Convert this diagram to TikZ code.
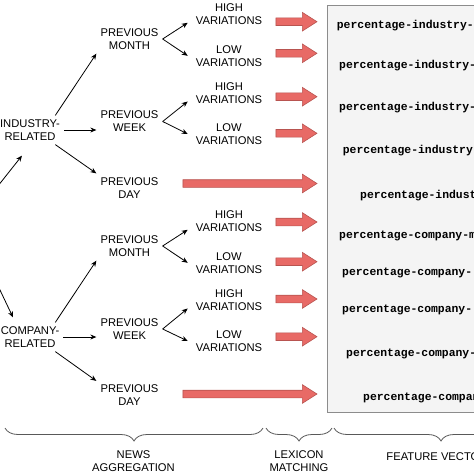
\documentclass[tikz,border=0pt]{standalone}
\usepackage{fontspec}
\setmainfont{Liberation Sans}
\newfontfamily\codefont{Liberation Mono}
\usetikzlibrary{arrows.meta,shapes.arrows,decorations.pathreplacing}
\definecolor{arrfill}{HTML}{E86A66}
\definecolor{arrline}{HTML}{B85450}
\definecolor{fvfill}{HTML}{F4F4F4}
\definecolor{fvline}{HTML}{8C8C8C}
\begin{document}
\begin{tikzpicture}[x=1pt,y=1pt,
lbl/.style={align=center,font=\fontsize{11.2}{13}\selectfont,inner xsep=4pt,inner ysep=4pt},
var/.style={lbl,inner xsep=8pt},
feat/.style={anchor=base west,inner sep=0pt,font=\codefont\bfseries\fontsize{11.4}{13}\selectfont},
arr/.style={-{Stealth[length=6pt,width=5pt]},line width=0.8pt},
bigarr/.style={single arrow,draw=arrline,fill=arrfill,line width=0.6pt,inner xsep=0pt,inner ysep=3.5pt,minimum width=18pt,single arrow head extend=5.5pt,single arrow tip angle=65},
brc/.style={decorate,decoration={brace,mirror,amplitude=13pt},draw=black!65,line width=0.8pt}]
\useasboundingbox (0,0) rectangle (474,-474);
\clip (0,0) rectangle (474,-474);
\coordinate (srcA) at (-10,-196);
\coordinate (srcB) at (-10,-269);
\node[lbl] (ind) at (30,-130) {INDUSTRY-\\RELATED};
\node[lbl] (cmp) at (30,-337) {COMPANY-\\RELATED};
\node[lbl] (pmi) at (129.5,-39) {PREVIOUS\\MONTH};
\node[lbl] (pwi) at (129.5,-121.5) {PREVIOUS\\WEEK};
\node[lbl] (pdi) at (129.5,-188) {PREVIOUS\\DAY};
\node[lbl] (pmc) at (129.5,-246) {PREVIOUS\\MONTH};
\node[lbl] (pwc) at (129.5,-329) {PREVIOUS\\WEEK};
\node[lbl] (pdc) at (129.5,-395.5) {PREVIOUS\\DAY};
\node[var] (hvi1) at (229,-14) {HIGH\\VARIATIONS};
\node[var] (lvi1) at (229,-55.8) {LOW\\VARIATIONS};
\node[var] (hvi2) at (229,-92.7) {HIGH\\VARIATIONS};
\node[var] (lvi2) at (229,-134) {LOW\\VARIATIONS};
\node[var] (hvc1) at (229,-221) {HIGH\\VARIATIONS};
\node[var] (lvc1) at (229,-262.8) {LOW\\VARIATIONS};
\node[var] (hvc2) at (229,-299.7) {HIGH\\VARIATIONS};
\node[var] (lvc2) at (229,-341) {LOW\\VARIATIONS};
\draw[arr] (srcA) -- ([shift={(-8,-11)}]ind.south);
\draw[arr] (srcB) -- ([shift={(-17,5)}]cmp.north);
\draw[arr] (ind.30) -- (pmi.south west);
\draw[arr] (ind.east) -- (ind.east -| pwi.west);
\draw[arr] (ind.-30) -- (pdi.north west);
\draw[arr] (cmp.30) -- (pmc.south west);
\draw[arr] (cmp.east) -- (cmp.east -| pwc.west);
\draw[arr] (cmp.-30) -- (pdc.north west);
\draw[arr] (pmi.east) -- (hvi1.192);
\draw[arr] (pmi.east) -- (lvi1.west);
\draw[arr] (pwi.east) -- (hvi2.192);
\draw[arr] (pwi.east) -- (lvi2.west);
\draw[arr] (pmc.east) -- (hvc1.192);
\draw[arr] (pmc.east) -- (lvc1.west);
\draw[arr] (pwc.east) -- (hvc2.192);
\draw[arr] (pwc.east) -- (lvc2.west);
\node[bigarr,minimum height=41] (rhi1) at (293.5,-21.7) {};
\node[bigarr,minimum height=41] (rli1) at (293.5,-53.3) {};
\node[bigarr,minimum height=41] (rhi2) at (293.5,-96.7) {};
\node[bigarr,minimum height=41] (rli2) at (293.5,-133.3) {};
\node[bigarr,minimum height=134] (rdi) at (247,-183.5) {};
\node[bigarr,minimum height=41] (rhc1) at (293.5,-222) {};
\node[bigarr,minimum height=41] (rlc1) at (293.5,-261.7) {};
\node[bigarr,minimum height=41] (rhc2) at (293.5,-299) {};
\node[bigarr,minimum height=41] (rlc2) at (293.5,-336.7) {};
\node[bigarr,minimum height=134] (rdc) at (247,-394) {};
\node[draw=fvline,fill=fvfill,line width=0.8pt,minimum width=240,minimum height=407,anchor=north west,inner sep=0pt] (fv) at (327,-5) {};
\node[feat] (f1) at (336.7,-28) {percentage-industry-};
\node[feat] (f2) at (339,-68) {percentage-industry-};
\node[feat] (f3) at (339,-110) {percentage-industry-};
\node[feat] (f4) at (342.7,-153) {percentage-industry-};
\node[feat] (f5) at (360,-198) {percentage-indust};
\node[feat] (f6) at (339,-238) {percentage-company-m};
\node[feat] (f7) at (342,-275.7) {percentage-company-};
\node[feat] (f8) at (342,-312) {percentage-company-};
\node[feat] (f9) at (346,-356) {percentage-company-};
\node[feat] (f10) at (363,-400) {percentage-compan};
\coordinate (b1a) at (5,-428);
\coordinate (b1b) at (263,-428);
\coordinate (b2a) at (266,-428);
\coordinate (b2b) at (332,-428);
\coordinate (b3a) at (334,-428);
\coordinate (b3b) at (548,-428);
\draw[brc] (b1a) -- (b1b);
\draw[brc] (b2a) -- (b2b);
\draw[brc] (b3a) -- (b3b);
\node[lbl] (news) at (133.5,-461.5) {NEWS\\AGGREGATION};
\node[lbl] (lex) at (299,-461.3) {LEXICON\\MATCHING};
\node[lbl] (fvec) at (440.7,-457) {FEATURE VECTORS};
\end{tikzpicture}
\end{document}
